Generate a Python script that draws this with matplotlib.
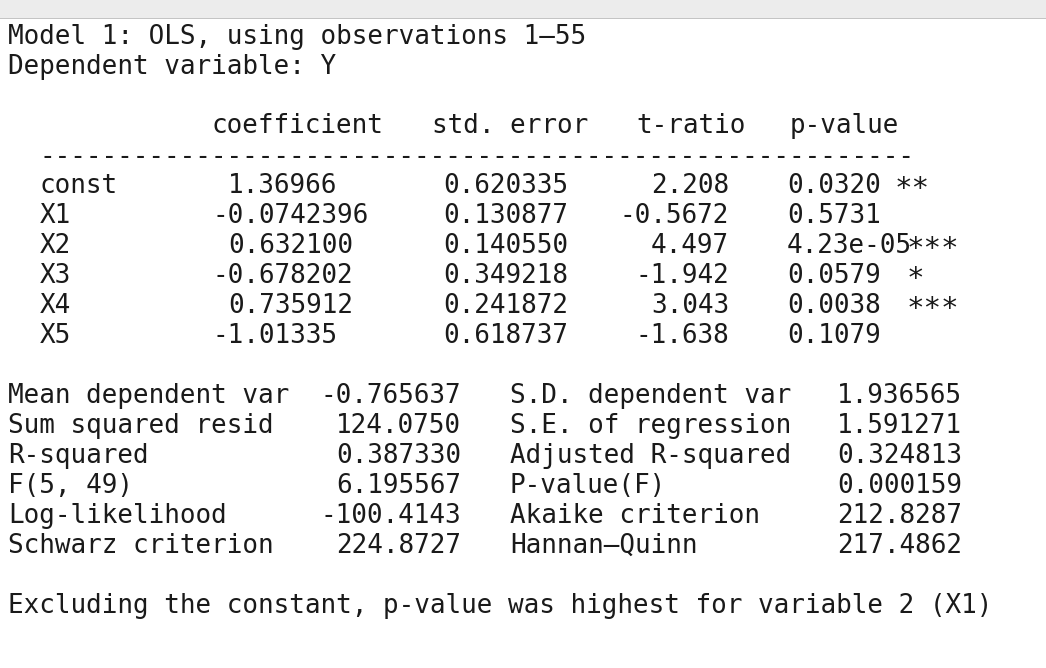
import matplotlib
matplotlib.use("Agg")
import matplotlib.pyplot as plt
from matplotlib.patches import Rectangle

W, H = 1046, 668
CW = 15.65  # monospace char width in px

header_lines = ["Model 1: OLS, using observations 1\u201355", "Dependent variable: Y"]
col_heads = ["coefficient", "std. error", "t-ratio", "p-value"]
variables = ["const", "X1", "X2", "X3", "X4", "X5"]
coef = ["1.36966", "-0.0742396", "0.632100", "-0.678202", "0.735912", "-1.01335"]
stderr = ["0.620335", "0.130877", "0.140550", "0.349218", "0.241872", "0.618737"]
tratio = ["2.208", "-0.5672", "4.497", "-1.942", "3.043", "-1.638"]
pvalue = ["0.0320", "0.5731", "4.23e-05", "0.0579", "0.0038", "0.1079"]
stars = ["**", "", "***", "*", "***", ""]

stat_labels_l = ["Mean dependent var", "Sum squared resid", "R-squared",
                 "F(5, 49)", "Log-likelihood", "Schwarz criterion"]
stat_values_l = ["-0.765637", "124.0750", "0.387330", "6.195567", "-100.4143", "224.8727"]
stat_labels_r = ["S.D. dependent var", "S.E. of regression", "Adjusted R-squared",
                 "P-value(F)", "Akaike criterion", "Hannan\u2013Quinn"]
stat_values_r = ["1.936565", "1.591271", "0.324813", "0.000159", "212.8287", "217.4862"]
footer = "Excluding the constant, p-value was highest for variable 2 (X1)"

fig = plt.figure(figsize=(W / 100, H / 100), dpi=100)
fig.patch.set_facecolor("white")
fig.patches.append(Rectangle((0, 1 - 18 / H), 1, 18 / H, transform=fig.transFigure,
                             facecolor="#ececec", edgecolor="none"))
fig.patches.append(Rectangle((0, 1 - 19 / H), 1, 1.5 / H, transform=fig.transFigure,
                             facecolor="#c4c4c4", edgecolor="none"))

FS = 18.7
COL = "#1a1a1a"


def put(x, y, s, ha="left", fs=FS):
    fig.text(x / W, 1 - y / H, s, ha=ha, va="center", fontsize=fs,
             family="DejaVu Sans Mono", color=COL)


def put_dec(xdot, y, s):
    # align on the decimal point
    put(xdot - s.index(".") * CW, y, s)


put(8, 37, header_lines[0])
put(8, 67, header_lines[1])

for x, h in zip([212, 432, 636, 790], col_heads):
    put(x, 126, h)
put(40, 157, "-" * 56)

for i, v in enumerate(variables):
    y = 186 + 30 * i
    put(40, y, v)
    put_dec(244, y, coef[i])
    put_dec(459, y, stderr[i])
    put(729, y, tratio[i], ha="right")
    put(787, y, pvalue[i])
    if stars[i]:
        sx = 895 if stars[i] == "**" else 907
        put(sx, y + 3, stars[i], fs=21)

for i in range(6):
    y = 396 + 30 * i
    put(8, y, stat_labels_l[i])
    put(461, y, stat_values_l[i], ha="right")
    put(510, y, stat_labels_r[i])
    put(962, y, stat_values_r[i], ha="right")

put(8, 606, footer)

fig.savefig("out.png", dpi=100)
